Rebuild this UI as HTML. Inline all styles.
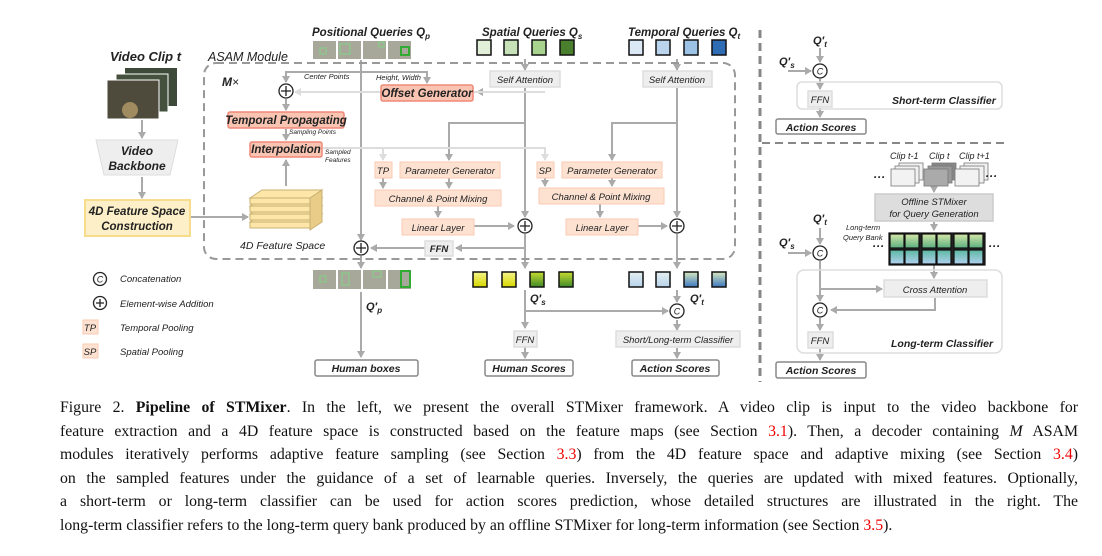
<!DOCTYPE html>
<html><head><meta charset="utf-8"><style>
body{margin:0;background:#fff;width:1102px;height:556px;overflow:hidden;position:relative}
svg{position:absolute;left:0;top:0}
svg text{font-family:"Liberation Sans",sans-serif;font-style:italic;fill:#222}
.cap{position:absolute;left:60px;width:1018px;font-family:"Liberation Serif",serif;font-size:15.8px;color:#111;line-height:23.5px;top:396px}
.cap div{text-align:justify;text-align-last:justify;white-space:nowrap}
.cap div.l{text-align-last:left}
.r{color:#e00}
</style></head><body>
<svg width="1102" height="390" viewBox="0 0 1102 390">
<defs>
<marker id="a" markerWidth="8" markerHeight="8" refX="6" refY="4" orient="auto" markerUnits="userSpaceOnUse"><path d="M0,0L7,4L0,8z" fill="#aaa"/></marker>
<marker id="b" markerWidth="8" markerHeight="8" refX="6" refY="4" orient="auto" markerUnits="userSpaceOnUse"><path d="M0,0L7,4L0,8z" fill="#ddd"/></marker>
<linearGradient id="gy" x1="0" y1="0" x2="0" y2="1"><stop offset="0" stop-color="#f4f48a"/><stop offset="1" stop-color="#d8d800"/></linearGradient>
<linearGradient id="gg" x1="0" y1="0" x2="0" y2="1"><stop offset="0" stop-color="#c8dc30"/><stop offset="1" stop-color="#3f8a2a"/></linearGradient>
<linearGradient id="gb1" x1="0" y1="0" x2="0" y2="1"><stop offset="0" stop-color="#e4eef0"/><stop offset="1" stop-color="#b8d4ec"/></linearGradient>
<linearGradient id="gb2" x1="0" y1="0" x2="0" y2="1"><stop offset="0" stop-color="#d8e8c0"/><stop offset="1" stop-color="#3c78c0"/></linearGradient>
<linearGradient id="qb1" x1="0" y1="0" x2="0" y2="1"><stop offset="0" stop-color="#d6e6a8"/><stop offset="1" stop-color="#5ab080"/></linearGradient>
<linearGradient id="qb2" x1="0" y1="0" x2="0" y2="1"><stop offset="0" stop-color="#5cb8a0"/><stop offset="1" stop-color="#b0d0f0"/></linearGradient>
</defs>
<g stroke="#aaa" stroke-width="2" fill="none">
<line x1="142" y1="120" x2="142" y2="138" marker-end="url(#a)"/>
<line x1="142" y1="177" x2="142" y2="198" marker-end="url(#a)"/>
<line x1="190" y1="217" x2="248" y2="217" marker-end="url(#a)"/>
<line x1="286" y1="186" x2="286" y2="160" marker-end="url(#a)"/>
<line x1="286" y1="129" x2="286" y2="140" marker-end="url(#a)"/>
<line x1="286" y1="99" x2="286" y2="110" marker-end="url(#a)"/>
<path d="M361,60 V72 H286 V82" marker-end="url(#a)"/>
<path d="M361,60 V240" marker-end="url(#a)"/>
<path d="M361,256 V268" marker-end="url(#a)"/>
<path d="M361,72 H427 V83" marker-end="url(#a)"/>
<line x1="525" y1="59" x2="525" y2="70" marker-end="url(#a)"/>
<line x1="677" y1="59" x2="677" y2="70" marker-end="url(#a)"/>
<line x1="525" y1="92" x2="477" y2="92" marker-end="url(#a)"/>
<path d="M525,88 V217" marker-end="url(#a)"/>
<path d="M525,123 H449 V160" marker-end="url(#a)"/>
<path d="M677,88 V217" marker-end="url(#a)"/>
<path d="M677,123 H612 V160" marker-end="url(#a)"/>
<line x1="449" y1="178" x2="449" y2="188" marker-end="url(#a)"/>
<line x1="383" y1="178" x2="383" y2="188" marker-end="url(#a)"/>
<line x1="545" y1="178" x2="545" y2="186" marker-end="url(#a)"/>
<line x1="612" y1="178" x2="612" y2="186" marker-end="url(#a)"/>
<line x1="438" y1="206" x2="438" y2="217" marker-end="url(#a)"/>
<line x1="600" y1="204" x2="600" y2="217" marker-end="url(#a)"/>
<line x1="474" y1="226" x2="514" y2="226" marker-end="url(#a)"/>
<line x1="638" y1="226" x2="667" y2="226" marker-end="url(#a)"/>
<path d="M525,234 V248 H456" marker-end="url(#a)"/>
<line x1="425" y1="248" x2="371" y2="248" marker-end="url(#a)"/>
<path d="M525,248 V268" marker-end="url(#a)"/>
<path d="M677,234 V268" marker-end="url(#a)"/>
<path d="M361,292 V357" marker-end="url(#a)"/>
<path d="M525,290 V328" marker-end="url(#a)"/>
<path d="M525,311 H668" marker-end="url(#a)"/>
<line x1="677" y1="290" x2="677" y2="302" marker-end="url(#a)"/>
<line x1="677" y1="320" x2="677" y2="330" marker-end="url(#a)"/>
<line x1="677" y1="348" x2="677" y2="358" marker-end="url(#a)"/>
<line x1="525" y1="347" x2="525" y2="358" marker-end="url(#a)"/>
</g>
<g stroke="#ddd" stroke-width="2" fill="none">
<line x1="545" y1="92" x2="295" y2="92" marker-end="url(#b)"/>
<path d="M323,148 H545 V160" marker-end="url(#b)"/>
<path d="M383,148 V160" marker-end="url(#b)"/>
</g>
<rect x="204" y="63" width="531" height="196" rx="12" fill="none" stroke="#999" stroke-width="2" stroke-dasharray="8,5"/>
<text x="208" y="61" font-size="12.5">ASAM Module</text>
<text x="222" y="86" font-size="12" font-weight="bold">M<tspan font-weight="normal">×</tspan></text>
<text x="110" y="61" font-size="13" font-weight="bold">Video Clip  t</text>
<rect x="125" y="68" width="52" height="38" fill="#3d4a3a"/>
<rect x="116" y="74" width="52" height="38" fill="#45503e" stroke="#fff"/>
<rect x="107" y="80" width="52" height="39" fill="#4e4a3c" stroke="#fff"/>
<circle cx="130" cy="110" r="8" fill="#a08a60"/>
<path d="M96,140 H178 L170,175 H104 Z" fill="#eee" stroke="#ddd"/>
<text x="137" y="155" font-size="12" text-anchor="middle" font-weight="bold">Video</text>
<text x="137" y="170" font-size="12" text-anchor="middle" font-weight="bold">Backbone</text>
<rect x="85" y="200" width="105" height="36" fill="#fdf0c8" stroke="#f7dc8c" stroke-width="2"/>
<text x="137" y="215" font-size="11.5" text-anchor="middle" font-weight="bold">4D Feature Space</text>
<text x="137" y="230" font-size="11.5" text-anchor="middle" font-weight="bold">Construction</text>
<g fill="#fde6a8" stroke="#c8b070" stroke-width="1">
<path d="M250,222 L262,214 H322 L310,222Z"/><path d="M250,222 H310 V228 H250Z"/>
<path d="M250,214 L262,206 H322 L310,214Z"/><path d="M250,214 H310 V220 H250Z"/>
<path d="M250,206 L262,198 H322 L310,206Z"/><path d="M250,206 H310 V212 H250Z"/>
<path d="M250,198 L262,190 H322 L310,198Z"/><path d="M250,198 H310 V204 H250Z"/>
<path d="M310,198 L322,190 V222 L310,230Z" fill="#e8cc88"/>
</g>
<text x="240" y="249" font-size="10.5">4D Feature Space</text>
<g fill="#fff" stroke="#222" stroke-width="1.3">
<circle cx="286" cy="91" r="7"/><circle cx="361" cy="248" r="7"/><circle cx="525" cy="226" r="7"/><circle cx="677" cy="226" r="7"/>
<circle cx="100" cy="303" r="6.5"/>
</g>
<g stroke="#222" stroke-width="1.3">
<path d="M281,91h10M286,86v10M356,248h10M361,243v10M520,226h10M525,221v10M672,226h10M677,221v10M96,303h8M100,299v8"/>
</g>
<text x="304" y="79" font-size="7.5">Center Points</text>
<text x="376" y="80" font-size="7.5">Height, Width</text>
<rect x="381" y="85" width="92" height="16" rx="2" fill="#f9c4b2" stroke="#f08878" stroke-width="1.5"/>
<text x="427" y="97" font-size="11.5" text-anchor="middle" font-weight="bold">Offset Generator</text>
<rect x="228" y="112" width="116" height="16" rx="2" fill="#f9c4b2" stroke="#f08878" stroke-width="1.5"/>
<text x="286" y="124" font-size="11.5" text-anchor="middle" font-weight="bold">Temporal Propagating</text>
<text x="289" y="134" font-size="6.5">Sampling Points</text>
<rect x="250" y="142" width="72" height="15" rx="2" fill="#f9c4b2" stroke="#f08878" stroke-width="1.5"/>
<text x="286" y="153" font-size="11.5" text-anchor="middle" font-weight="bold">Interpolation</text>
<text x="325" y="154" font-size="6.5">Sampled</text><text x="325" y="162" font-size="6.5">Features</text>
<g fill="#fde2d2" stroke="#f9cbb2">
<rect x="375" y="162" width="17" height="16"/><rect x="400" y="162" width="100" height="16"/>
<rect x="375" y="190" width="126" height="16"/><rect x="402" y="219" width="72" height="16"/>
<rect x="537" y="162" width="17" height="16"/><rect x="562" y="162" width="100" height="16"/>
<rect x="539" y="188" width="125" height="16"/><rect x="566" y="219" width="72" height="16"/>
<rect x="83" y="320" width="15" height="14"/><rect x="83" y="344" width="15" height="14"/>
</g>
<g font-size="9.5" text-anchor="middle">
<text x="383" y="174">TP</text><text x="450" y="174">Parameter Generator</text>
<text x="438" y="202">Channel &amp; Point Mixing</text><text x="438" y="231">Linear Layer</text>
<text x="545" y="174">SP</text><text x="612" y="174">Parameter Generator</text>
<text x="601" y="200">Channel &amp; Point Mixing</text><text x="602" y="231">Linear Layer</text>
<text x="90" y="331">TP</text><text x="90" y="355">SP</text>
</g>
<g fill="#eee" stroke="#ddd" stroke-width="1.5">
<rect x="490" y="71" width="70" height="16"/><rect x="643" y="71" width="69" height="16"/>
<rect x="425" y="241" width="28" height="15"/>
<rect x="514" y="331" width="23" height="16"/><rect x="616" y="331" width="124" height="16"/>
<rect x="808" y="91" width="24" height="16"/><rect x="808" y="332" width="25" height="16"/>
<rect x="884" y="280" width="103" height="17"/>
</g>
<rect x="875" y="194" width="118" height="27" fill="#ddd" stroke="#ccc" stroke-width="1.5"/>
<g font-size="9.5" text-anchor="middle">
<text x="525" y="83">Self Attention</text><text x="677" y="83">Self Attention</text>
<text x="439" y="252" font-weight="bold">FFN</text>
<text x="525" y="343">FFN</text><text x="678" y="343">Short/Long-term Classifier</text>
<text x="820" y="103">FFN</text><text x="820" y="344">FFN</text>
<text x="935" y="293">Cross Attention</text>
<text x="934" y="205">Offline STMixer</text><text x="934" y="217">for Query Generation</text>
</g>
<g font-size="11.5" font-weight="bold">
<text x="312" y="36">Positional Queries Q<tspan font-size="8" dy="3">p</tspan></text>
<text x="482" y="36">Spatial Queries Q<tspan font-size="8" dy="3">s</tspan></text>
<text x="628" y="36">Temporal Queries Q<tspan font-size="8" dy="3">t</tspan></text>
</g>
<g fill="#a8a89a"><rect x="313" y="41" width="23" height="18"/><rect x="338" y="41" width="23" height="18"/><rect x="363" y="41" width="23" height="18"/><rect x="388" y="41" width="23" height="18"/>
<rect x="313" y="270" width="23" height="19"/><rect x="338" y="270" width="23" height="19"/><rect x="363" y="270" width="23" height="19"/><rect x="388" y="270" width="23" height="19"/></g>
<g fill="none" stroke="#8c8" stroke-width="1.2"><rect x="320" y="48" width="6" height="6"/><rect x="340" y="44" width="10" height="10"/><rect x="379" y="42" width="5" height="5"/><rect x="401" y="47" width="8" height="8" stroke="#3a3" stroke-width="2"/>
<rect x="320" y="276" width="6" height="6"/><rect x="342" y="273" width="7" height="12"/><rect x="373" y="271" width="8" height="6"/><rect x="401" y="271" width="9" height="16" stroke="#3a3" stroke-width="2"/></g>
<g stroke="#111" stroke-width="1.5">
<rect x="477" y="40" width="14" height="15" fill="#e2f0da"/><rect x="504" y="40" width="14" height="15" fill="#c7e2b8"/><rect x="532" y="40" width="14" height="15" fill="#a8d38e"/><rect x="560" y="40" width="14" height="15" fill="#4a7f2e"/>
<rect x="629" y="40" width="14" height="15" fill="#dbe9f7"/><rect x="656" y="40" width="14" height="15" fill="#bad4ee"/><rect x="684" y="40" width="14" height="15" fill="#9cc2e6"/><rect x="712" y="40" width="14" height="15" fill="#2e6db4"/>
<rect x="473" y="272" width="14" height="15" fill="url(#gy)"/><rect x="502" y="272" width="14" height="15" fill="url(#gy)"/><rect x="530" y="272" width="14" height="15" fill="url(#gg)"/><rect x="559" y="272" width="14" height="15" fill="url(#gg)"/>
<rect x="629" y="272" width="14" height="15" fill="url(#gb1)"/><rect x="656" y="272" width="14" height="15" fill="url(#gb1)"/><rect x="684" y="272" width="14" height="15" fill="url(#gb2)"/><rect x="712" y="272" width="14" height="15" fill="url(#gb2)"/>
</g>
<g font-size="11" font-weight="bold">
<text x="366" y="310">Q′<tspan font-size="8" dy="3">p</tspan></text>
<text x="530" y="302">Q′<tspan font-size="8" dy="3">s</tspan></text>
<text x="690" y="302">Q′<tspan font-size="8" dy="3">t</tspan></text>
<text x="813" y="44">Q′<tspan font-size="8" dy="3">t</tspan></text>
<text x="779" y="65">Q′<tspan font-size="8" dy="3">s</tspan></text>
<text x="813" y="222">Q′<tspan font-size="8" dy="3">t</tspan></text>
<text x="779" y="246">Q′<tspan font-size="8" dy="3">s</tspan></text>
</g>
<g fill="#fff" stroke="#888" stroke-width="1.5">
<rect x="315" y="360" width="103" height="16" rx="2"/><rect x="485" y="360" width="88" height="16" rx="2"/><rect x="632" y="360" width="87" height="16" rx="2"/>
<rect x="776" y="119" width="90" height="15" rx="2"/><rect x="776" y="362" width="90" height="16" rx="2"/>
</g>
<g font-size="10.5" text-anchor="middle" font-weight="bold">
<text x="366" y="372">Human boxes</text><text x="529" y="372">Human Scores</text><text x="675" y="372">Action Scores</text>
<text x="821" y="131">Action Scores</text><text x="821" y="374">Action Scores</text>
</g>
<circle cx="100" cy="279" r="6.5" fill="#fff" stroke="#222" stroke-width="1.3"/>
<text x="100" y="282.5" font-size="9" text-anchor="middle" font-style="normal">C</text>
<g font-size="9.5"><text x="120" y="282">Concatenation</text><text x="120" y="307">Element-wise Addition</text><text x="120" y="331">Temporal Pooling</text><text x="120" y="355">Spatial Pooling</text></g>
<g fill="#fff" stroke="#222" stroke-width="1.3"><circle cx="677" cy="311" r="7"/><circle cx="820" cy="71" r="7"/><circle cx="820" cy="253" r="7"/><circle cx="820" cy="310" r="7"/></g>
<g font-size="9" text-anchor="middle" font-style="normal"><text x="677" y="314.5">C</text><text x="820" y="74.5">C</text><text x="820" y="256.5">C</text><text x="820" y="313.5">C</text></g>
<line x1="760" y1="30" x2="760" y2="382" stroke="#888" stroke-width="3" stroke-dasharray="8,5"/>
<line x1="762" y1="143" x2="1005" y2="143" stroke="#888" stroke-width="2" stroke-dasharray="8,5"/>
<g stroke="#aaa" stroke-width="2" fill="none">
<line x1="820" y1="48" x2="820" y2="62" marker-end="url(#a)"/>
<line x1="788" y1="71" x2="811" y2="71" marker-end="url(#a)"/>
<line x1="820" y1="79" x2="820" y2="89" marker-end="url(#a)"/>
<line x1="820" y1="108" x2="820" y2="117" marker-end="url(#a)"/>
<line x1="820" y1="228" x2="820" y2="244" marker-end="url(#a)"/>
<line x1="788" y1="253" x2="811" y2="253" marker-end="url(#a)"/>
<line x1="820" y1="261" x2="820" y2="301" marker-end="url(#a)"/>
<line x1="820" y1="289" x2="882" y2="289" marker-end="url(#a)"/>
<path d="M935,298 V310 H831" marker-end="url(#a)"/>
<line x1="820" y1="318" x2="820" y2="330" marker-end="url(#a)"/>
<line x1="820" y1="349" x2="820" y2="360" marker-end="url(#a)"/>
<line x1="934" y1="185" x2="934" y2="192" marker-end="url(#a)"/>
<line x1="934" y1="222" x2="934" y2="230" marker-end="url(#a)"/>
<line x1="934" y1="265" x2="934" y2="278" marker-end="url(#a)"/>
</g>
<rect x="797" y="82" width="205" height="27" rx="5" fill="none" stroke="#ddd" stroke-width="1.5"/>
<rect x="797" y="270" width="205" height="83" rx="7" fill="none" stroke="#ddd" stroke-width="1.5"/>
<g font-size="10.5" font-weight="bold"><text x="892" y="104">Short-term Classifier</text><text x="891" y="347">Long-term Classifier</text></g>
<g font-size="9"><text x="890" y="159">Clip t-1</text><text x="929" y="159">Clip t</text><text x="959" y="159">Clip t+1</text></g>
<g stroke="#777" stroke-width="0.8">
<rect x="899" y="163" width="24" height="17" fill="#f2f2f2"/><rect x="895" y="166" width="24" height="17" fill="#f2f2f2"/><rect x="891" y="169" width="24" height="17" fill="#f2f2f2"/>
<rect x="932" y="163" width="24" height="17" fill="#888"/><rect x="928" y="166" width="24" height="17" fill="#999"/><rect x="924" y="169" width="24" height="17" fill="#aaa"/>
<rect x="964" y="163" width="24" height="17" fill="#f2f2f2"/><rect x="960" y="166" width="24" height="17" fill="#f2f2f2"/><rect x="955" y="169" width="24" height="17" fill="#f2f2f2"/>
</g>
<g font-size="12" font-weight="bold" font-style="normal"><text x="873" y="181">···</text><text x="985" y="180">···</text><text x="872" y="250">···</text><text x="988" y="250">···</text></g>
<g font-size="7.5"><text x="846" y="230">Long-term</text><text x="843" y="240">Query Bank</text></g>
<g stroke="#111" stroke-width="1.2">
<rect x="889" y="233" width="96" height="32" fill="#222"/>
<rect x="890" y="234" width="14" height="14" fill="url(#qb1)"/><rect x="905" y="234" width="14" height="14" fill="url(#qb1)"/><rect x="922" y="234" width="14" height="14" fill="url(#qb1)"/><rect x="937" y="234" width="14" height="14" fill="url(#qb1)"/><rect x="954" y="234" width="14" height="14" fill="url(#qb1)"/><rect x="969" y="234" width="14" height="14" fill="url(#qb1)"/>
<rect x="890" y="250" width="14" height="14" fill="url(#qb2)"/><rect x="905" y="250" width="14" height="14" fill="url(#qb2)"/><rect x="922" y="250" width="14" height="14" fill="url(#qb2)"/><rect x="937" y="250" width="14" height="14" fill="url(#qb2)"/><rect x="954" y="250" width="14" height="14" fill="url(#qb2)"/><rect x="969" y="250" width="14" height="14" fill="url(#qb2)"/>
</g>
</svg>
<div class="cap">
<div>Figure 2. <b>Pipeline of STMixer</b>. In the left, we present the overall STMixer framework. A video clip is input to the video backbone for</div>
<div>feature extraction and a 4D feature space is constructed based on the feature maps (see Section <span class="r">3.1</span>). Then, a decoder containing <i>M</i> ASAM</div>
<div>modules iteratively performs adaptive feature sampling (see Section <span class="r">3.3</span>) from the 4D feature space and adaptive mixing (see Section <span class="r">3.4</span>)</div>
<div>on the sampled features under the guidance of a set of learnable queries. Inversely, the queries are updated with mixed features. Optionally,</div>
<div>a short-term or long-term classifier can be used for action scores prediction, whose detailed structures are illustrated in the right. The</div>
<div class="l">long-term classifier refers to the long-term query bank produced by an offline STMixer for long-term information (see Section <span class="r">3.5</span>).</div>
</div>
</body></html>
